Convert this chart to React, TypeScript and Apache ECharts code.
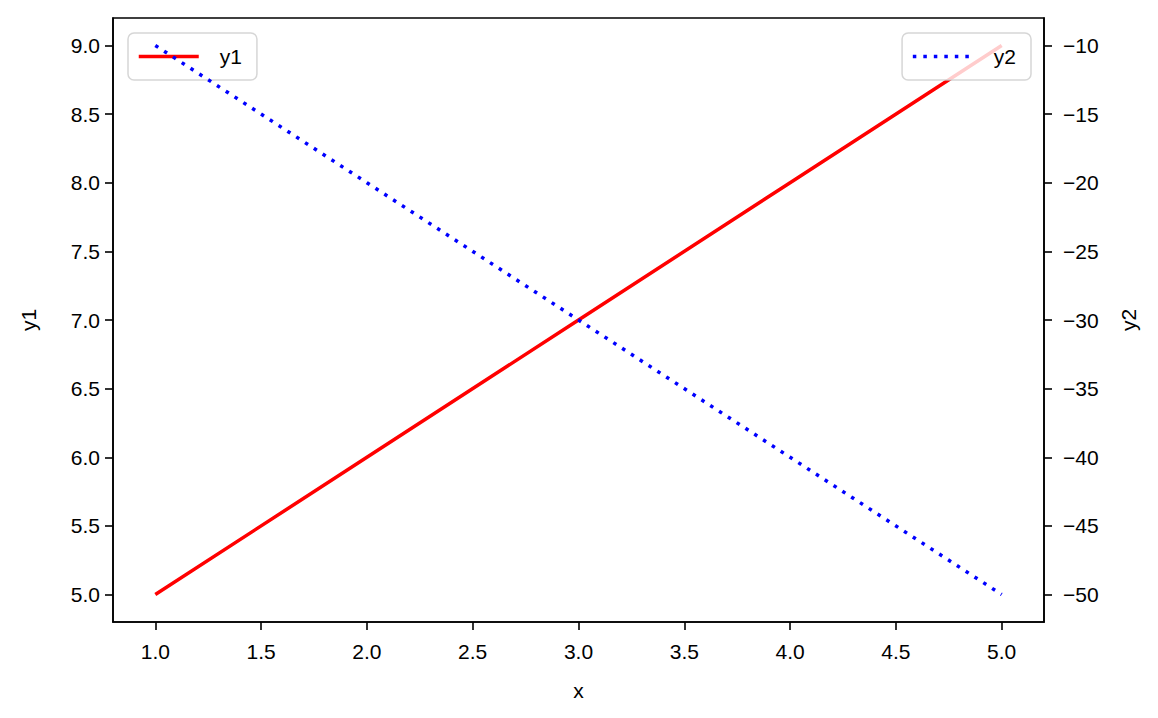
import React, { useEffect, useRef } from 'react';
import * as echarts from 'echarts';

const xValues = [1, 2, 3, 4, 5];
const y1Values = [5, 6, 7, 8, 9];
const y2Values = [-10, -20, -30, -40, -50];

const xTicks = [1, 1.5, 2, 2.5, 3, 3.5, 4, 4.5, 5];
const y1Ticks = [5, 5.5, 6, 6.5, 7, 7.5, 8, 8.5, 9];
const y2Ticks = [-50, -45, -40, -35, -30, -25, -20, -15, -10];

const FONT = 'Liberation Sans, Arial, sans-serif';
const FONT_SIZE = 21;

const fmtMinus = (v: number) => (v < 0 ? '\u2212' + Math.abs(v) : String(v));

const axisCommon = {
  axisLine: { show: true, lineStyle: { color: '#000', width: 1.6 } },
  axisTick: { show: true, inside: false, length: 8, lineStyle: { color: '#000', width: 1.6 } },
  splitLine: { show: false },
  nameTextStyle: { color: '#000', fontSize: FONT_SIZE, fontFamily: FONT },
};

const legendBox = {
  orient: 'horizontal' as const,
  itemWidth: 60,
  itemHeight: 20,
  backgroundColor: 'rgba(255,255,255,0.8)',
  borderColor: 'rgba(204,204,204,0.8)',
  borderWidth: 1.5,
  borderRadius: 6,
  padding: [13, 15, 13, 9],
  itemStyle: { opacity: 0 },
  lineStyle: { width: 3.5 },
  textStyle: { color: '#000', fontSize: FONT_SIZE, fontFamily: FONT, padding: [0, 0, 0, 16] },
};

const App = () => {
  const divEL = useRef<HTMLDivElement>(null);

  useEffect(() => {
    const instance = echarts.init(divEL.current as any, null, { renderer: 'svg' });

    const option: any = {
      animation: false,
      backgroundColor: '#fff',
      grid: {
        left: 113,
        right: 114,
        top: 18,
        bottom: 96,
        show: true,
        borderColor: '#000',
        borderWidth: 1.6,
        backgroundColor: 'transparent',
      },
      legend: [
        { ...legendBox, data: ['y1'], left: 128, top: 33, z: 4 },
        { ...legendBox, data: ['y2'], right: 127, top: 33, z: 6 },
      ],
      xAxis: {
        ...axisCommon,
        type: 'value',
        min: 0.8,
        max: 5.2,
        name: 'x',
        nameLocation: 'middle',
        nameGap: 58,
        axisTick: { ...axisCommon.axisTick, customValues: xTicks },
        axisLabel: {
          customValues: xTicks,
          color: '#000',
          fontSize: FONT_SIZE,
          fontFamily: FONT,
          margin: 19,
          formatter: (v: number) => v.toFixed(1),
        },
      },
      yAxis: [
        {
          ...axisCommon,
          type: 'value',
          position: 'left',
          min: 4.8,
          max: 9.2,
          name: 'y1',
          nameLocation: 'middle',
          nameRotate: 90,
          nameGap: 74,
          axisTick: { ...axisCommon.axisTick, customValues: y1Ticks },
          axisLabel: {
            customValues: y1Ticks,
            color: '#000',
            fontSize: FONT_SIZE,
            fontFamily: FONT,
            margin: 13,
            formatter: (v: number) => v.toFixed(1),
          },
        },
        {
          ...axisCommon,
          type: 'value',
          position: 'right',
          min: -52,
          max: -8,
          name: 'y2',
          nameLocation: 'middle',
          nameRotate: 90,
          nameGap: 74,
          axisTick: { ...axisCommon.axisTick, customValues: y2Ticks },
          axisLabel: {
            customValues: y2Ticks,
            color: '#000',
            fontSize: FONT_SIZE,
            fontFamily: FONT,
            margin: 19,
            formatter: fmtMinus,
          },
        },
      ],
      series: [
        {
          name: 'y1',
          type: 'line',
          yAxisIndex: 0,
          symbol: 'none',
          z: 3,
          data: xValues.map((x, i) => [x, y1Values[i]]),
          lineStyle: { color: '#ff0000', width: 3.5 },
          itemStyle: { color: '#ff0000' },
        },
        {
          name: 'y2',
          type: 'line',
          yAxisIndex: 1,
          symbol: 'none',
          z: 5,
          data: xValues.map((x, i) => [x, y2Values[i]]),
          lineStyle: { color: '#0000ff', width: 3.5, type: [3.5, 7] },
          itemStyle: { color: '#0000ff' },
        },
      ],
    };

    instance.setOption(option);
    return () => {
      instance.dispose();
    };
  }, []);

  return (
    <div
      ref={divEL}
      style={{ position: 'absolute', left: 0, top: 0, width: 1158, height: 718, background: '#fff' }}
    ></div>
  );
};

export default App;
